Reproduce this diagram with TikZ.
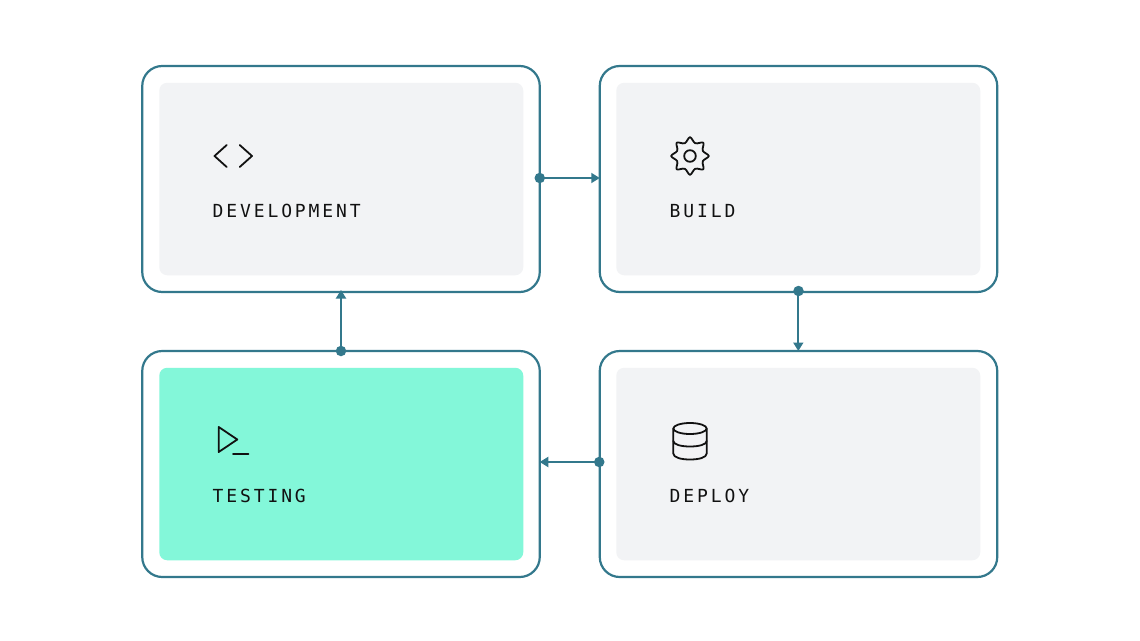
\documentclass[tikz,border=0pt]{standalone}
\usepackage{fontspec}
\setmonofont[LetterSpace=16]{DejaVu Sans Mono}
\usetikzlibrary{arrows.meta}
\definecolor{teal1}{HTML}{33788C}
\definecolor{panel}{HTML}{F2F3F5}
\definecolor{mint}{HTML}{83F7D9}
\definecolor{ink}{HTML}{111111}
\tikzset{
  x=1pt,y=-1pt,
  outerbox/.style={draw=teal1,line width=2.2pt,rounded corners=20pt,minimum width=397.5pt,minimum height=226pt,inner sep=0pt,outer sep=0pt,fill=white},
  innerbox/.style={rounded corners=8pt,minimum width=364pt,minimum height=192.5pt,inner sep=0pt,outer sep=0pt,fill=panel},
  minty/.style={fill=mint},
  lbl/.style={font=\ttfamily\fontsize{18pt}{22pt}\selectfont,text=ink,anchor=base west,inner sep=0pt},
  icon/.style={draw=ink,line width=1.8pt,line join=round,line cap=round},
  link/.style={draw=teal1,line width=1.9pt,-{Triangle[length=8.5pt,width=10pt]}},
  dot/.style={fill=teal1,circle,minimum size=10.5pt,inner sep=0pt},
}
\begin{document}
\begin{tikzpicture}
\useasboundingbox (0,0) rectangle (1140,640);
\node[outerbox] (dev) at (341,179) {};
\node[outerbox] (bld) at (798.5,179) {};
\node[outerbox] (tst) at (341,464) {};
\node[outerbox] (dep) at (798.5,464) {};
\node[innerbox] (devi) at (341.25,179) {};
\node[innerbox] (bldi) at (798.25,179) {};
\node[innerbox,minty] (tsti) at (341.25,464) {};
\node[innerbox] (depi) at (798.25,464) {};
\node[lbl] (l1) at (212.5,217) {DEVELOPMENT};
\node[lbl] (l2) at (669.5,217) {BUILD};
\node[lbl] (l3) at (212.5,502) {TESTING};
\node[lbl] (l4) at (669.5,502) {DEPLOY};
% connectors
\draw[link] ([yshift=1pt]dev.east) -- ([yshift=1pt]bld.west);
\node[dot] (d1) at ([yshift=1pt]dev.east) {};
\draw[link] ([xshift=-0.2pt,yshift=1pt]bld.south) -- ([xshift=-0.2pt]dep.north);
\node[dot] (d2) at ([yshift=1pt]bld.south) {};
\draw[link] ([xshift=-0.5pt,yshift=2pt]dep.west) -- ([yshift=2pt]tst.east);
\node[dot] (d3) at ([xshift=-0.5pt,yshift=2pt]dep.west) {};
\draw[link] (tst.north) -- ([yshift=2pt]dev.south);
\node[dot] (d4) at (tst.north) {};
% code icon
\draw[icon] (226.7,145) -- (214.5,156) -- (226.7,167);
\draw[icon] (239.7,145) -- (252,156) -- (239.7,167);
% gear icon
\draw[icon] plot[smooth cycle,tension=0.6,samples at={0,22.5,...,337.5}]
  ({690+(mod(\x,45)==0 ? 18.8 : 13.8)*sin(\x)},{156-(mod(\x,45)==0 ? 18.8 : 13.8)*cos(\x)});
\draw[icon] (690,156) circle[radius=5.8];
% terminal icon
\draw[icon] (218.7,427) -- (237.3,439.5) -- (218.7,452) -- cycle;
\draw[icon] (233,453.7) -- (248.5,453.7);
% database icon
\draw[icon] (690,428.5) ellipse[x radius=16.7,y radius=5.5];
\draw[icon] (673.3,428.5) -- (673.3,453.5) .. controls (673.3,457.5) and (681,459.5) .. (690,459.5) .. controls (699,459.5) and (706.7,457.5) .. (706.7,453.5) -- (706.7,428.5);
\draw[icon] (673.3,441) .. controls (673.3,444.5) and (681,446.5) .. (690,446.5) .. controls (699,446.5) and (706.7,444.5) .. (706.7,441);
\end{tikzpicture}
\end{document}
